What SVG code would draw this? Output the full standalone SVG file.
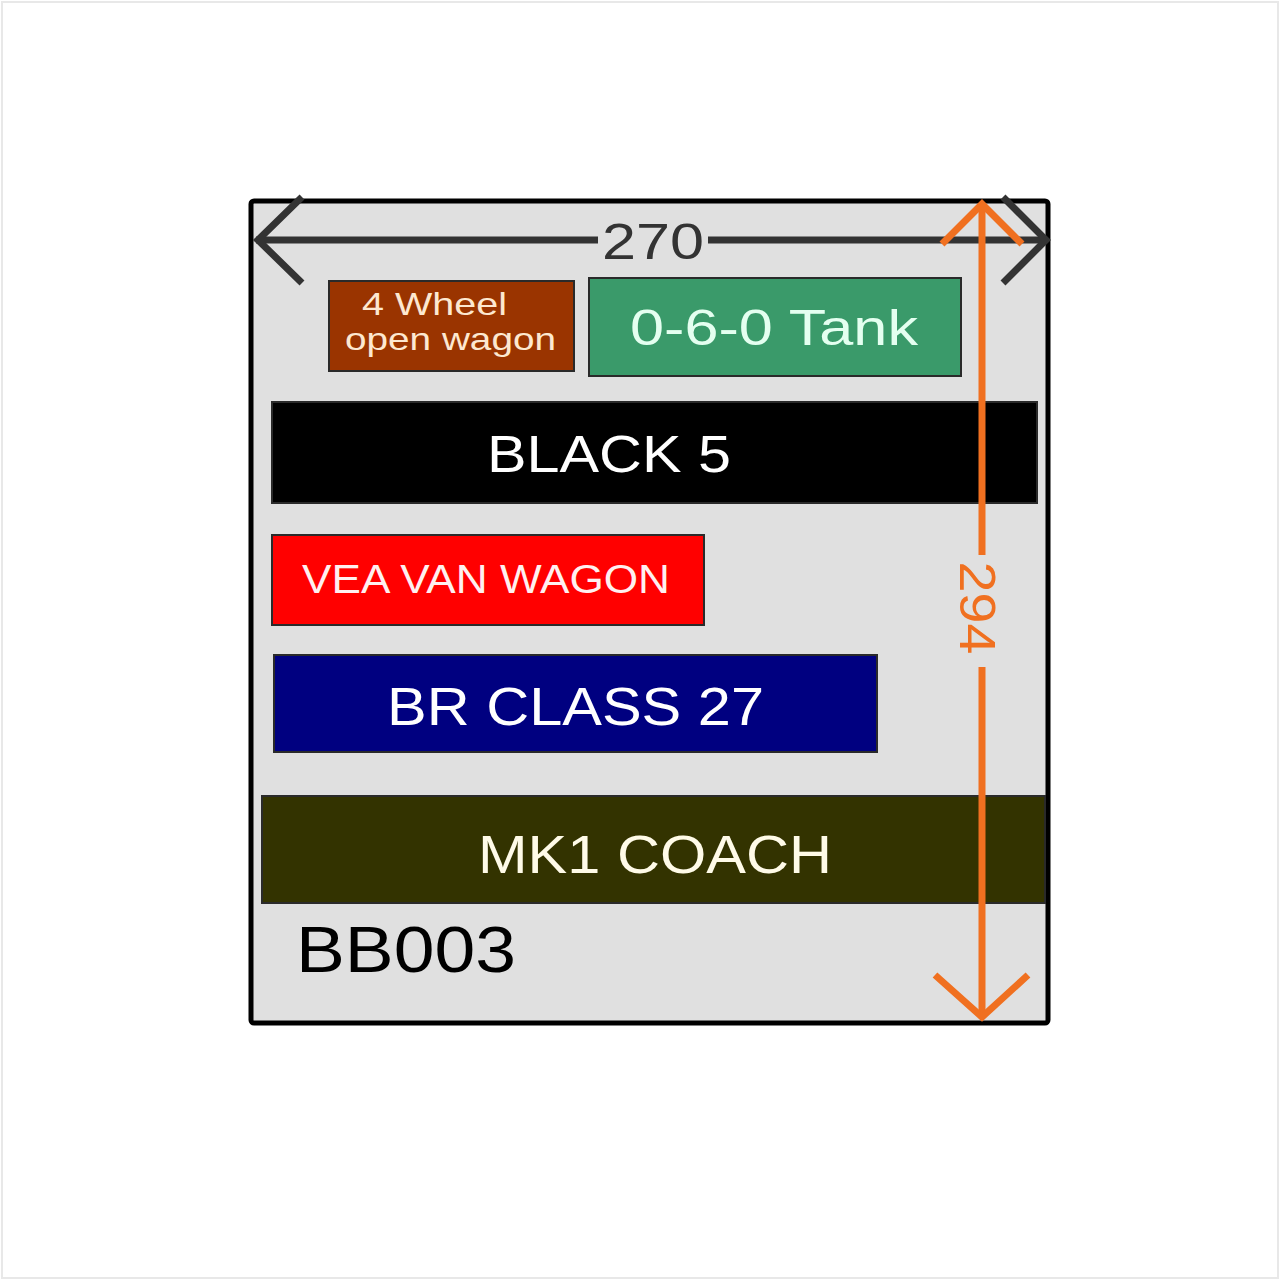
<svg xmlns="http://www.w3.org/2000/svg" width="1280" height="1280" viewBox="0 0 1280 1280">
<style>
.box{stroke:#2a2a2a;stroke-width:2}
.lbl{font-family:"Liberation Sans",Arial,sans-serif;text-anchor:middle}
.dimk{stroke:#333;stroke-width:7;fill:none;stroke-linecap:butt}
.dimo{stroke:#f07020;stroke-width:7;fill:none}
</style>
<rect x="0" y="0" width="1280" height="1280" fill="#fff"/>
<rect x="2" y="2" width="1276" height="1276" fill="none" stroke="#e8e8e8" stroke-width="2"/>
<g id="board">
<rect x="251" y="201" width="797" height="822" rx="3" fill="#e0e0e0" stroke="#000" stroke-width="5"/>
<text x="296" y="972" font-family="Liberation Sans,Arial,sans-serif" font-size="64" fill="#000" textLength="220" lengthAdjust="spacingAndGlyphs">BB003</text>
</g>
<g id="wagon4">
<rect class="box" x="329" y="281" width="245" height="90" fill="#9a3400"/>
<text class="lbl" x="434.5" y="315" font-size="32" fill="#fde8d0" textLength="145" lengthAdjust="spacingAndGlyphs">4 Wheel</text>
<text class="lbl" x="450.5" y="350" font-size="32" fill="#fde8d0" textLength="211" lengthAdjust="spacingAndGlyphs">open wagon</text>
</g>
<g id="tank">
<rect class="box" x="589" y="278" width="372" height="98" fill="#3a9a6a"/>
<text class="lbl" x="774" y="345" font-size="50" fill="#e4fff0" textLength="288" lengthAdjust="spacingAndGlyphs">0-6-0 Tank</text>
</g>
<g id="black5">
<rect class="box" x="272" y="402" width="765" height="101" fill="#000"/>
<text class="lbl" x="609" y="472" font-size="52" fill="#fff" textLength="244" lengthAdjust="spacingAndGlyphs">BLACK 5</text>
</g>
<g id="vea">
<rect class="box" x="272" y="535" width="432" height="90" fill="#ff0000"/>
<text class="lbl" x="486" y="593" font-size="40" fill="#fff0f0" textLength="368" lengthAdjust="spacingAndGlyphs">VEA VAN WAGON</text>
</g>
<g id="br27">
<rect class="box" x="274" y="655" width="603" height="97" fill="#000080"/>
<text class="lbl" x="575.5" y="725" font-size="54" fill="#fff" textLength="377" lengthAdjust="spacingAndGlyphs">BR CLASS 27</text>
</g>
<g id="mk1">
<rect class="box" x="262" y="796" width="783" height="107" fill="#333300"/>
<text class="lbl" x="655" y="873" font-size="54" fill="#fffbe8" textLength="354" lengthAdjust="spacingAndGlyphs">MK1 COACH</text>
</g>
<g id="connectors">
<path class="dimk" d="M256 240H598M708 240H1046"/>
<path class="dimk" d="M302 197L258 240L302 283M1003 197L1046 240L1003 283"/>
<text class="lbl" x="653" y="259" font-size="50" fill="#333" textLength="102" lengthAdjust="spacingAndGlyphs">270</text>
<path class="dimo" d="M982 206V555M982 667V1016"/>
<path class="dimo" d="M942 244L982 204L1022 244M935 975L982 1017L1028 975"/>
<text class="lbl" transform="translate(960 608) rotate(90)" font-size="50" fill="#f07020" textLength="93" lengthAdjust="spacingAndGlyphs">294</text>
</g>
</svg>
